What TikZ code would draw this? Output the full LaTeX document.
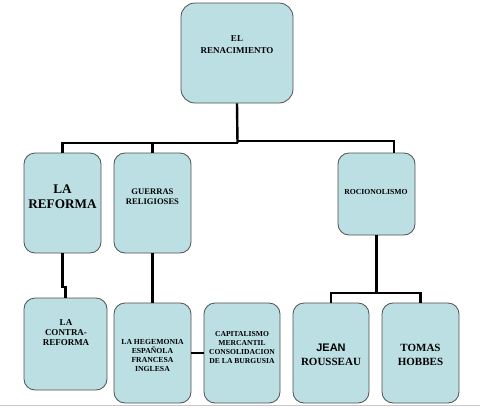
\documentclass[tikz,border=0pt]{standalone}
\usepackage{fontspec}
\setmainfont{Liberation Serif}
\newfontfamily\arialfont{Liberation Sans}
\definecolor{boxfill}{HTML}{BBDFE3}
\definecolor{boxline}{HTML}{505050}
\definecolor{basegray}{HTML}{C8C8C8}
\tikzset{
  box/.style={draw=boxline, fill=boxfill, line width=0.8pt, rounded corners=11pt, inner sep=0pt},
  lbl/.style={inner sep=0pt, align=center, font=\bfseries},
  conn/.style={line width=2.4pt, line join=miter}
}
\begin{document}
\begin{tikzpicture}[x=1pt,y=-1pt]
\useasboundingbox (0,0) rectangle (480,408);
\coordinate (bl) at (0,405.5);
\coordinate (br) at (480,405.5);
\draw[draw=basegray, line width=1.5pt] (bl) -- (br);
% boxes
\node[box, rounded corners=14pt, minimum width=112pt, minimum height=100pt] (top) at (237,53) {};
\node[box, minimum width=77pt, minimum height=100pt] (reforma) at (62.5,203) {};
\node[box, minimum width=77pt, minimum height=100pt] (guerras) at (152.5,203) {};
\node[box, minimum width=77pt, minimum height=82pt] (rocio) at (376.5,194) {};
\node[box, minimum width=83pt, minimum height=92pt] (contra) at (65.5,344) {};
\node[box, minimum width=77pt, minimum height=100pt] (hegem) at (152.5,353) {};
\node[box, minimum width=76pt, minimum height=100pt] (capit) at (242,353) {};
\node[box, minimum width=76pt, minimum height=100pt] (jean) at (331,353) {};
\node[box, minimum width=77pt, minimum height=100pt] (tomas) at (420.5,353) {};
% texts
\node[lbl, font=\bfseries\fontsize{9}{12}\selectfont] (ttop) at (237,45) {EL\\RENACIMIENTO};
\node[lbl, font=\bfseries\fontsize{13.2}{15}\selectfont] (treforma) at (62.5,196.5) {LA\\REFORMA};
\node[lbl, font=\bfseries\fontsize{8.6}{10}\selectfont] (tguerras) at (152.5,196.5) {GUERRAS\\RELIGIOSES};
\node[lbl, font=\bfseries\fontsize{7.7}{9}\selectfont] (trocio) at (376,191.5) {ROCIONOLISMO};
\node[lbl, font=\bfseries\fontsize{9}{10}\selectfont] (tcontra) at (66,332.5) {LA\\CONTRA-\\REFORMA};
\node[lbl, font=\bfseries\fontsize{7.7}{8.7}\selectfont] (thegem) at (152.5,355.5) {LA HEGEMONIA\\ESPAÑOLA\\FRANCESA\\INGLESA};
\node[lbl, font=\bfseries\fontsize{7.6}{8.7}\selectfont] (tcapit) at (242,347.5) {CAPITALISMO\\MERCANTIL\\CONSOLIDACION\\DE LA BURGUSIA};
\node[lbl, font=\bfseries\fontsize{11}{14}\selectfont] (tjean) at (331,354.5) {{\arialfont JEAN}\\ROUSSEAU};
\node[lbl, font=\bfseries\fontsize{11}{14}\selectfont] (ttomas) at (420.5,354.5) {TOMAS\\HOBBES};
% junction coordinates
\coordinate (jl) at (237.5,143);
\coordinate (jr) at (237.5,141);
\coordinate (rocioin) at (394,153);
\coordinate (jc) at (62.5,287);
\coordinate (jrc) at (376.5,293);
% connectors
\draw[conn] (top.south) -- (jl);
\draw[conn] (jl) -| (reforma.north);
\draw[conn] (jl) -| (guerras.north);
\draw[conn] (jr) -| (rocioin);
\draw[conn] (reforma.south) -- (jc) -| (contra.north);
\draw[conn] (guerras.south) -- (hegem.north);
\draw[conn] (hegem.east) -- (capit.west);
\draw[conn] (rocio.south) -- (jrc);
\draw[conn] (jrc) -| (jean.north);
\draw[conn] (jrc) -| (tomas.north);
\end{tikzpicture}
\end{document}
